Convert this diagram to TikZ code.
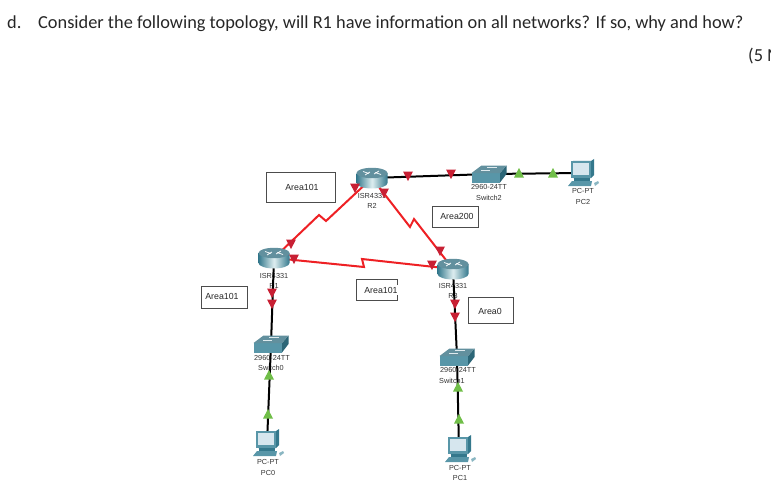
\documentclass[tikz,border=0pt]{standalone}
\usepackage{fontspec}
\setmainfont{Carlito}
\newfontfamily\labelfont{Liberation Sans}
\definecolor{serialred}{RGB}{238,32,36}
\definecolor{tridown}{RGB}{200,32,52}
\definecolor{triup}{RGB}{112,190,72}
\definecolor{tealdark}{RGB}{52,120,140}
\definecolor{tealmid}{RGB}{88,150,168}
\definecolor{teallight}{RGB}{222,238,240}
\definecolor{screenc}{RGB}{214,230,238}
\tikzset{
  x=1pt,y=-1pt,
  serial/.style={draw=serialred,line width=2pt,line join=miter},
  wire/.style={draw=black,line width=2pt},
  areabox/.style={draw=black!70,line width=0.9pt,fill=white},
  areatext/.style={font=\labelfont\fontsize{8.8}{10}\selectfont,fill=white,inner sep=1.5pt,text=black!85},
  devlabel/.style={font=\labelfont\fontsize{7.3}{8}\selectfont,inner sep=0pt,text=black!80},
  titletext/.style={anchor=base west,inner sep=0pt,font=\fontsize{18.35}{20}\selectfont,text=black!85},
  router/.pic={
    \path[left color=tealdark,right color=tealdark,middle color=teallight]
      (-15.5,-5) -- (-15.5,5) arc[start angle=180,end angle=0,x radius=15.5,y radius=5.5] -- (15.5,-5) -- cycle;
    \fill[tealmid!75!gray] (0,-5) ellipse[x radius=15.5,y radius=5.2];
    \draw[white,line width=0.7pt] (-9,-6.5) -- (-3,-4.5) (9,-3.5) -- (3,-5.5) (-7,-3) -- (-2,-6) (7,-7) -- (2,-4);
  },
  switchdev/.pic={
    \fill[tealdark!85!black] (17.5,-8.5) -- (17.5,0) -- (11,8.5) -- (11,-1) -- cycle;
    \fill[tealmid] (-17.5,-1) -- (11,-1) -- (11,8.5) -- (-17.5,8.5) -- cycle;
    \fill[tealmid!75!gray] (-17.5,-1) -- (-7.5,-8.5) -- (17.5,-8.5) -- (11,-1) -- cycle;
    \draw[white!80!tealmid,line width=0.6pt] (-8,-3.5) -- (1,-3.5) (-2,-6.5) -- (8,-6.5);
  },
  pcdev/.pic={
    \fill[tealdark] (-9,-12) -- (9,-12) -- (12,-14) -- (12,2) -- (9,5) -- (-9,5) -- cycle;
    \fill[tealmid] (-11,-12) -- (9,-12) -- (9,5) -- (-11,5) -- cycle;
    \fill[screenc] (-9,-10) rectangle (7,2);
    \fill[tealdark] (-8,5) rectangle (8,8);
    \fill[tealmid] (-14,13) -- (-10,8) -- (10,8) -- (9,13) -- cycle;
    \fill[tealmid!70] (12,10) -- (16,8) -- (17,10) -- (13,13) -- cycle;
  },
  tdown/.pic={\fill[tridown] (-5,-4.5) -- (5,-4.5) -- (0,5) -- cycle;},
  tup/.pic={\fill[triup] (-5,4.5) -- (5,4.5) -- (0,-5) -- cycle;},
}
\begin{document}
\begin{tikzpicture}
\useasboundingbox (0,0) rectangle (771,492);
% device anchors
\coordinate (R1) at (274,258);
\coordinate (R2) at (372,178);
\coordinate (R3) at (453,269);
\coordinate (S0) at (271,344);
\coordinate (S1) at (457,357);
\coordinate (S2) at (489,174);
\coordinate (P0) at (267,443);
\coordinate (P1) at (459,449);
\coordinate (P2) at (582,173);
\coordinate (a1) at (319,215);
\coordinate (a2) at (326,221);
\coordinate (b1) at (364,267);
\coordinate (b2) at (362,259);
\coordinate (c1) at (410,227);
\coordinate (c2) at (414,219);
% title
\node[titletext] (dlabel) at (7,29) {d.};
\node[titletext] (title) at (38,29) {Consider the following topology, will R1 have information on all networks? If so, why and how?};
\node[titletext] (marks) at (748,62) {(5 M};
% area boxes
\node[areabox,minimum width=69pt,minimum height=30pt,inner sep=0pt] (box1) at (300.5,187) {};
\node[areabox,minimum width=46pt,minimum height=22pt,inner sep=0pt] (box2) at (224,297) {};
\node[areabox,minimum width=41pt,minimum height=21pt,inner sep=0pt] (box3) at (376.5,289.5) {};
\node[areabox,minimum width=46pt,minimum height=21pt,inner sep=0pt] (box4) at (455,216.5) {};
\node[areabox,minimum width=45pt,minimum height=26pt,inner sep=0pt] (box5) at (490.5,310) {};
\node[areatext] (t1) at (302,187) {Area101};
\node[areatext] (t2) at (222,296) {Area101};
\node[areatext] (t3) at (381,290) {Area101};
\node[areatext] (t4) at (457,216) {Area200};
\node[areatext] (t5) at (490,311) {Area0};
% labels
\node[devlabel] (l1) at (274,276) {ISR4331};
\node[devlabel] (l2) at (274,286) {R1};
\node[devlabel] (l3) at (372,196) {ISR4331};
\node[devlabel] (l4) at (372,206) {R2};
\node[devlabel] (l5) at (453,286) {ISR4331};
\node[devlabel] (l6) at (453,296) {R3};
\node[devlabel] (l7) at (489,187) {2960-24TT};
\node[devlabel] (l8) at (489,198) {Switch2};
\node[devlabel] (l9) at (583,191) {PC-PT};
\node[devlabel] (l10) at (583,202) {PC2};
\node[devlabel] (l11) at (272,358) {2960-24TT};
\node[devlabel] (l12) at (271,368) {Switch0};
\node[devlabel] (l13) at (458,370) {2960-24TT};
\node[devlabel] (l14) at (452,381) {Switch1};
\node[devlabel] (l15) at (268,462) {PC-PT};
\node[devlabel] (l16) at (268,473) {PC0};
\node[devlabel] (l17) at (460,468) {PC-PT};
\node[devlabel] (l18) at (460,478) {PC1};
% connectors
\draw[serial] (R1) -- (a1) -- (a2) -- (R2);
\draw[serial] (R1) -- (b1) -- (b2) -- (R3);
\draw[serial] (R2) -- (c1) -- (c2) -- (R3);
\draw[wire] (R2) -- (S2);
\draw[wire] (S2) -- (P2);
\draw[wire] (R1) -- (S0);
\draw[wire] (S0) -- (P0);
\draw[wire] (R3) -- (S1);
\draw[wire] (S1) -- (P1);
% devices
\pic at (R1) {router};
\pic at (R2) {router};
\pic at (R3) {router};
\pic at (S0) {switchdev};
\pic at (S1) {switchdev};
\pic at (S2) {switchdev};
\pic at (P0) {pcdev};
\pic at (P1) {pcdev};
\pic at (P2) {pcdev};
% link lights
\foreach \p in {(291,244),(355,188),(384,193),(440,251),(294,259),(432,265),(272,293),(272,304),(408,176),(451,174),(455,304),(455,317)}
  \pic at \p {tdown};
\foreach \p in {(519,173),(553,173),(269,375),(268,414),(458,387),(459,419)}
  \pic at \p {tup};
\end{tikzpicture}
\end{document}
